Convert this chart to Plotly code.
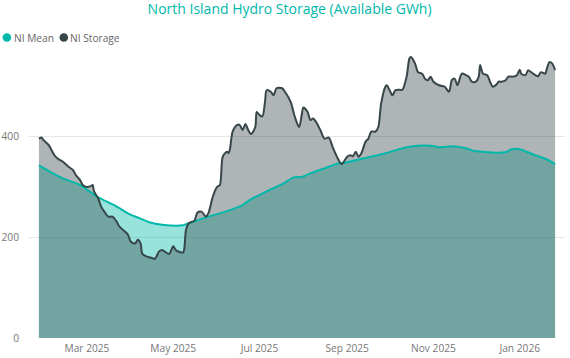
import plotly.graph_objects as go

# ---- data ----
storage_dates = [
    "2025-01-26", "2025-01-28", "2025-01-29", "2025-02-01", "2025-02-02", "2025-02-04",
    "2025-02-06", "2025-02-08", "2025-02-12", "2025-02-16", "2025-02-19", "2025-02-21",
    "2025-02-24", "2025-02-26", "2025-03-01", "2025-03-04", "2025-03-05", "2025-03-06",
    "2025-03-09", "2025-03-11", "2025-03-14", "2025-03-16", "2025-03-19", "2025-03-22",
    "2025-03-24", "2025-03-28", "2025-03-30", "2025-04-01", "2025-04-04", "2025-04-06",
    "2025-04-08", "2025-04-09", "2025-04-12", "2025-04-16", "2025-04-18", "2025-04-21",
    "2025-04-23", "2025-04-28", "2025-05-01", "2025-05-03", "2025-05-08", "2025-05-09",
    "2025-05-10", "2025-05-12", "2025-05-16", "2025-05-18", "2025-05-21", "2025-05-24",
    "2025-05-26", "2025-05-29", "2025-06-01", "2025-06-03", "2025-06-05", "2025-06-08",
    "2025-06-09", "2025-06-10", "2025-06-12", "2025-06-15", "2025-06-17", "2025-06-19",
    "2025-06-21", "2025-06-23", "2025-06-25", "2025-06-28", "2025-06-29", "2025-07-01",
    "2025-07-03", "2025-07-05", "2025-07-06", "2025-07-09", "2025-07-11", "2025-07-13",
    "2025-07-17", "2025-07-19", "2025-07-23", "2025-07-26", "2025-07-29", "2025-07-31",
    "2025-08-01", "2025-08-04", "2025-08-06", "2025-08-08", "2025-08-10", "2025-08-13",
    "2025-08-16", "2025-08-19", "2025-08-22", "2025-08-26", "2025-08-28", "2025-09-01",
    "2025-09-03", "2025-09-05", "2025-09-07", "2025-09-09", "2025-09-11", "2025-09-14",
    "2025-09-16", "2025-09-18", "2025-09-21", "2025-09-23", "2025-09-25", "2025-09-28",
    "2025-09-29", "2025-10-01", "2025-10-03", "2025-10-05", "2025-10-08", "2025-10-10",
    "2025-10-13", "2025-10-15", "2025-10-16", "2025-10-19", "2025-10-21", "2025-10-24",
    "2025-10-26", "2025-10-28", "2025-10-30", "2025-11-01", "2025-11-05", "2025-11-08",
    "2025-11-09", "2025-11-12", "2025-11-14", "2025-11-16", "2025-11-18", "2025-11-21",
    "2025-11-24", "2025-11-26", "2025-11-28", "2025-12-01", "2025-12-03", "2025-12-04",
    "2025-12-06", "2025-12-09", "2025-12-11", "2025-12-13", "2025-12-16", "2025-12-17",
    "2025-12-19", "2025-12-22", "2025-12-24", "2025-12-27", "2025-12-30", "2026-01-01",
    "2026-01-02", "2026-01-05", "2026-01-07", "2026-01-09", "2026-01-12", "2026-01-14",
    "2026-01-16", "2026-01-19", "2026-01-20", "2026-01-22", "2026-01-24", "2026-01-26",
]
ni_storage = [
    396, 398, 394, 386, 383, 373,
    363, 357, 350, 340, 334, 324,
    314, 304, 300, 302, 304, 291,
    277, 261, 248, 241, 241, 231,
    221, 211, 205, 191, 188, 195,
    187, 168, 162, 159, 157, 172,
    175, 167, 182, 174, 170, 182,
    215, 228, 233, 249, 251, 241,
    249, 281, 300, 304, 360, 370,
    367, 374, 410, 423, 423, 413,
    425, 413, 405, 419, 449, 443,
    440, 472, 492, 489, 482, 496,
    496, 489, 469, 439, 419, 446,
    458, 449, 433, 436, 429, 413,
    396, 398, 377, 353, 345, 360,
    363, 361, 370, 360, 367, 390,
    396, 410, 410, 419, 466, 499,
    502, 492, 482, 492, 493, 493,
    519, 555, 558, 545, 528, 525,
    515, 512, 519, 509, 502, 500,
    499, 489, 512, 515, 502, 525,
    522, 519, 509, 509, 519, 542,
    525, 522, 509, 499, 505, 509,
    509, 512, 519, 519, 522, 533,
    525, 522, 532, 528, 522, 520,
    528, 525, 533, 548, 545, 532,
]

mean_dates = [
    "2025-01-26", "2025-02-12", "2025-02-24", "2025-03-08", "2025-03-22", "2025-03-31",
    "2025-04-07", "2025-04-14", "2025-04-23", "2025-05-08", "2025-05-12", "2025-05-26",
    "2025-06-10", "2025-06-19", "2025-06-24", "2025-07-08", "2025-07-18", "2025-07-25",
    "2025-07-31", "2025-08-06", "2025-08-18", "2025-08-26", "2025-08-30", "2025-09-13",
    "2025-09-28", "2025-10-15", "2025-10-30", "2025-11-05", "2025-11-15", "2025-11-24",
    "2025-11-29", "2025-12-06", "2025-12-16", "2025-12-23", "2025-12-26", "2026-01-01",
    "2026-01-05", "2026-01-12", "2026-01-20", "2026-01-26",
]
ni_mean = [
    343, 317, 304, 281, 261, 246,
    238, 230, 225, 224, 228, 241,
    254, 264, 274, 294, 307, 319,
    320, 327, 339, 347, 348, 357,
    367, 380, 382, 379, 381, 377,
    372, 370, 368, 370, 375, 375,
    371, 363, 355, 345,
]

series_names = ["NI Mean", "NI Storage"]
title_text = "North Island Hydro Storage (Available GWh)"

# ---- styling ----
TEAL = "#01B8AA"
DARK = "#374649"
FONT = "Segoe UI, Open Sans, sans-serif"
TICK_COLOR = "#777777"

fig = go.Figure()
# fills first
fig.add_trace(go.Scatter(x=mean_dates, y=ni_mean, mode="none", fill="tozeroy",
                         fillcolor="rgba(1,184,170,0.4)", line_shape="spline",
                         showlegend=False, hoverinfo="skip"))
fig.add_trace(go.Scatter(x=storage_dates, y=ni_storage, mode="none", fill="tozeroy",
                         fillcolor="rgba(55,70,73,0.4)", line_shape="spline",
                         showlegend=False, hoverinfo="skip"))
# lines on top
fig.add_trace(go.Scatter(x=mean_dates, y=ni_mean, mode="lines", name=series_names[0],
                         line=dict(color=TEAL, width=2, shape="spline", smoothing=0.8),
                         showlegend=False))
fig.add_trace(go.Scatter(x=storage_dates, y=ni_storage, mode="lines", name=series_names[1],
                         line=dict(color=DARK, width=2, shape="spline", smoothing=0.8),
                         showlegend=False))

W, H = 570, 358
L, R, T, B = 29, 5, 51, 20
LEG_Y = 37.5

# manual compact legend (circle + label)
legend_items = [(series_names[0], TEAL, 6.9, 13.9), (series_names[1], DARK, 63.8, 70.4)]
for name, col, cx, tx in legend_items:
    fig.add_shape(type="circle", xref="paper", yref="paper", xsizemode="pixel",
                  ysizemode="pixel", xanchor=0, yanchor=1,
                  x0=cx - L - 4.3, x1=cx - L + 4.3,
                  y0=(T - LEG_Y) - 4.3, y1=(T - LEG_Y) + 4.3,
                  fillcolor=col, line=dict(width=0))
    fig.add_annotation(text=name, xref="paper", yref="paper", x=0, y=1,
                       xanchor="left", yanchor="middle", showarrow=False,
                       xshift=tx - L - 2, yshift=T - LEG_Y,
                       font=dict(family=FONT, size=10.2, color="#666666"))

fig.update_layout(
    width=W, height=H,
    margin=dict(l=L, r=R, t=T, b=B, pad=0, autoexpand=False),
    paper_bgcolor="white", plot_bgcolor="white",
    title=dict(text=title_text, x=289.6 / W, xanchor="center", xref="container",
               y=1 - 9.0 / H, yanchor="middle", yref="container",
               font=dict(family=FONT, size=14, color=TEAL)),
    showlegend=False,
    font=dict(family=FONT, size=10.2, color=TICK_COLOR),
)
fig.update_xaxes(range=["2025-01-19", "2026-02-02"], showgrid=False, zeroline=False,
                 showline=False, ticks="", dtick="M2", tick0="2025-01-01",
                 tickformat="%b %Y", automargin=False,
                 tickfont=dict(family=FONT, size=10.2, color=TICK_COLOR),
                 ticklabelstandoff=3)
fig.update_yaxes(range=[0, 570], tickvals=[0, 200, 400], showgrid=True,
                 gridcolor="#e6e6e6", gridwidth=1, zeroline=False, showline=False,
                 ticks="", automargin=False,
                 tickfont=dict(family=FONT, size=10.2, color=TICK_COLOR),
                 ticklabelstandoff=9)

fig.write_html("out.html", config={"displayModeBar": False},
               post_script="document.body.style.margin='0';document.body.style.overflow='hidden';")
